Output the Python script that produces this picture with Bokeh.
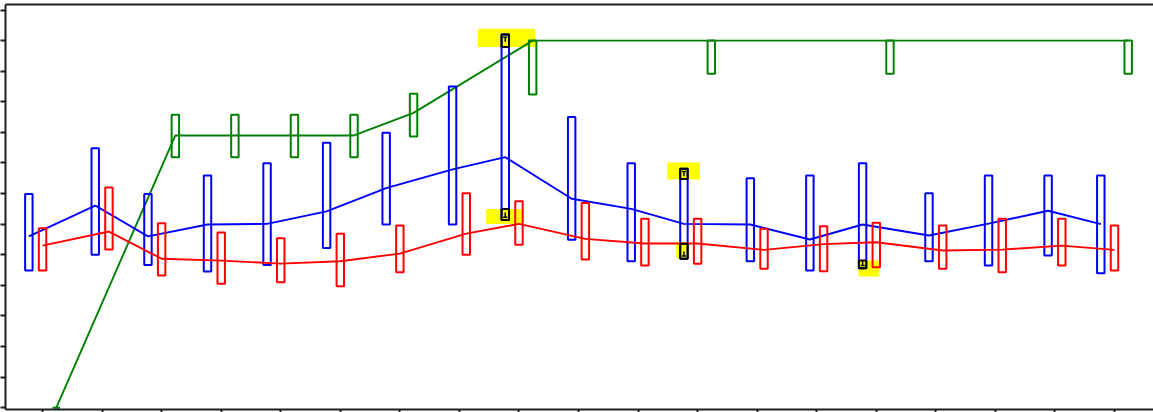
from bokeh.plotting import figure
from bokeh.models import Range1d, FixedTicker, LinearAxis, CustomLabelingPolicy
from bokeh.embed import file_html
from bokeh.resources import INLINE

# ---- data ----
groups = list(range(1, 20))

blue_low = [4.49, 5.00, 4.67, 4.45, 4.67, 5.22, 5.99, 5.99, 6.14, 5.49,
            4.79, 4.87, 4.79, 4.49, 4.56, 4.79, 4.65, 4.98, 4.40]
blue_high = [6.99, 8.48, 6.99, 7.59, 7.99, 8.66, 8.99, 10.50, 12.20, 9.50,
             7.99, 7.81, 7.50, 7.59, 7.99, 7.01, 7.59, 7.59, 7.59]
blue_mid = [5.60, 6.61, 5.60, 5.99, 6.01, 6.42, 7.18, 7.79, 8.19, 6.83,
            6.50, 6.01, 5.99, 5.50, 5.99, 5.63, 6.02, 6.44, 6.00]

red_low = [4.49, 5.17, 4.32, 4.05, 4.10, 3.97, 4.43, 5.00, 5.33, 4.85,
           4.65, 4.71, 4.54, 4.46, 4.59, 4.54, 4.43, 4.65, 4.49]
red_high = [5.87, 7.20, 6.03, 5.73, 5.54, 5.69, 5.96, 7.01, 6.75, 6.69,
            6.18, 6.18, 5.85, 5.93, 6.05, 5.96, 6.18, 6.18, 5.96]
red_mid = [5.30, 5.76, 4.87, 4.81, 4.71, 4.79, 5.04, 5.69, 6.01, 5.52,
           5.37, 5.37, 5.16, 5.35, 5.41, 5.14, 5.17, 5.30, 5.16]

green_groups = [1, 3, 4, 5, 6, 7, 9, 12, 15, 19]
green_low = [0.0, 8.19, 8.19, 8.19, 8.19, 8.87, 10.24, 10.92, 10.92, 10.92]
green_high = [0.0, 9.58, 9.58, 9.58, 9.58, 10.26, 12.00, 12.00, 12.00, 12.00]
green_mid = [0.0, 8.90, 8.90, 8.90, 8.90, 9.64, 12.00, 12.00, 12.00, 12.00]

# highlighted blue-box segments (group, end, low, high)
hl_group = [9, 9, 12, 12, 15]
hl_end = ["top", "bottom", "top", "bottom", "bottom"]
hl_low = [11.79, 6.14, 7.48, 4.87, 4.56]
hl_high = [12.20, 6.50, 7.81, 5.36, 4.81]
# yellow marker areas (x from/to, y from/to)
yl_x0 = [8.31, 8.45, 11.49, 11.64, 14.70]
yl_x1 = [9.27, 9.07, 12.04, 11.86, 15.05]
yl_y0 = [11.79, 6.01, 7.46, 4.88, 4.29]
yl_y1 = [12.39, 6.50, 8.02, 5.40, 4.81]

# ---- dodge positions ----
STEP = 0.23
BOX_W = 0.125
green_set = set(green_groups)
blue_x, red_x, green_x = [], [], []
for g in groups:
    present = ["blue", "red"] + (["green"] if g in green_set else [])
    n = len(present)
    off = {s: (i - (n - 1) / 2) * STEP for i, s in enumerate(present)}
    blue_x.append(g + off["blue"])
    red_x.append(g + off["red"])
    if "green" in off:
        green_x.append(g + off["green"])

p = figure(width=1153, height=412, output_backend="svg", toolbar_location=None,
           x_range=Range1d(0.378, 19.655), y_range=Range1d(-0.056, 13.18),
           min_border=0, min_border_top=4)
p.grid.visible = False
p.outline_line_color = None
p.background_fill_color = "white"
p.border_fill_color = "white"

no_labels = CustomLabelingPolicy(code="return new Set()")
for ax in (p.xaxis[0], p.yaxis[0]):
    ax.axis_line_width = 2
    ax.axis_line_color = "#1e1e1e"
    ax.major_tick_line_width = 2
    ax.major_tick_line_color = "#1e1e1e"
    ax.major_tick_in = 0
    ax.minor_tick_line_color = None
    ax.major_label_text_font_size = "0px"
    ax.major_label_standoff = 0
    ax.major_label_policy = no_labels
p.yaxis[0].major_tick_out = 5
p.xaxis[0].major_tick_out = 3
p.xaxis[0].ticker = FixedTicker(ticks=groups)
p.yaxis[0].ticker = FixedTicker(ticks=list(range(0, 14)))

top = LinearAxis(ticker=FixedTicker(ticks=[]), axis_line_width=2,
                 axis_line_color="#1e1e1e", major_tick_out=0, major_tick_in=0,
                 minor_tick_line_color=None, major_label_text_font_size="0px",
                 major_label_standoff=0,
                 major_label_policy=CustomLabelingPolicy(code="return new Set()"))
p.add_layout(top, "above")

# yellow highlight areas (underneath)
p.quad(left=yl_x0, right=yl_x1, bottom=yl_y0, top=yl_y1,
       fill_color="#ffff00", line_color=None)

def series(xs, lo, hi, mid, color):
    p.line(xs, mid, line_color=color, line_width=1.9)
    p.quad(left=[x - BOX_W / 2 for x in xs], right=[x + BOX_W / 2 for x in xs],
           bottom=lo, top=hi, fill_color=None, line_color=color, line_width=2)

series(green_x, green_low, green_high, green_mid, "#008000")
series(blue_x, blue_low, blue_high, blue_mid, "#0000ff")
series(red_x, red_low, red_high, red_mid, "#ff0000")

# black highlighted segments with small I-beam marks
hx = [blue_x[g - 1] for g in hl_group]
p.quad(left=[x - BOX_W / 2 for x in hx], right=[x + BOX_W / 2 for x in hx],
       bottom=hl_low, top=hl_high, fill_color=None, line_color="black",
       line_width=2)
cap_y = [hh - 0.09 if e == "top" else ll + 0.09
         for e, ll, hh in zip(hl_end, hl_low, hl_high)]
stem_y = [hh - 0.24 if e == "top" else ll + 0.24
          for e, ll, hh in zip(hl_end, hl_low, hl_high)]
p.segment(x0=[x - 0.035 for x in hx], x1=[x + 0.035 for x in hx],
          y0=cap_y, y1=cap_y, line_color="black", line_width=1.5)
p.segment(x0=hx, x1=hx, y0=cap_y, y1=stem_y, line_color="black", line_width=1.5)

open("out.html", "w").write(file_html(p, INLINE))
